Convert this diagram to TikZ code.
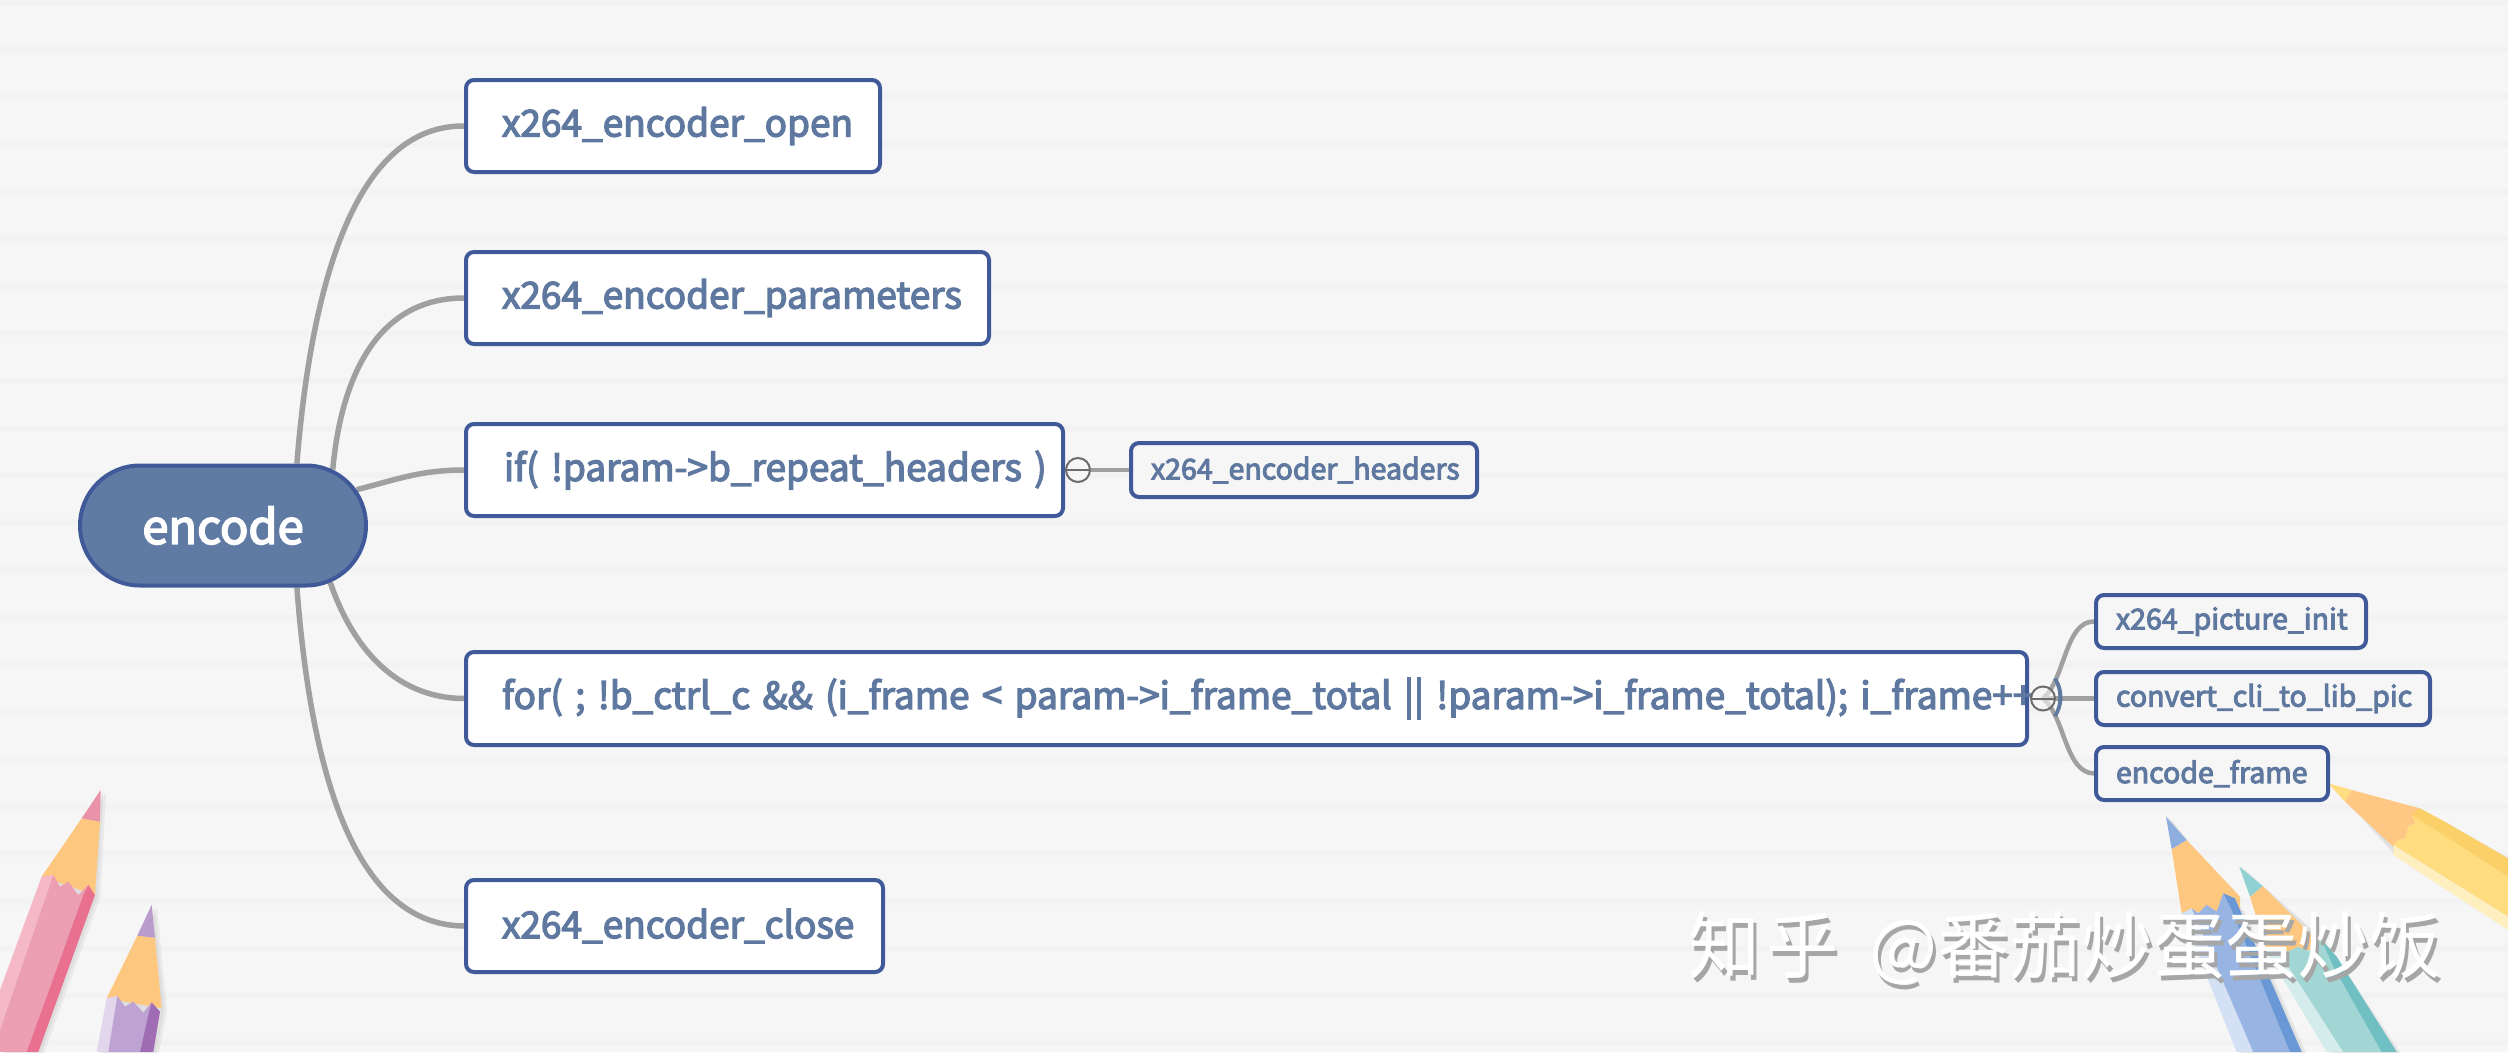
\documentclass[tikz,border=0pt]{standalone}
\usepackage{fontspec}
\setmainfont{Noto Sans CJK SC}[FakeBold=3.5]
\newfontfamily\wmfont{Noto Sans CJK SC}
\usetikzlibrary{shapes.misc}
\pgfdeclarelayer{under}
\pgfsetlayers{under,main}
\definecolor{pagebg}{HTML}{F6F6F6}
\definecolor{ruleline}{HTML}{F2F2F2}
\definecolor{edgeblue}{HTML}{405A99}
\definecolor{textblue}{HTML}{5F789F}
\definecolor{rootfill}{HTML}{5F7AA3}
\definecolor{linkgray}{HTML}{A0A0A0}
\tikzset{
  x=1pt,y=-1pt,
  hx/.code={\definecolor{tmpc}{HTML}{#1}\tikzset{fill=tmpc}},
  mainbox/.style={draw=edgeblue,line width=4pt,rounded corners=8pt,fill=white,text=textblue,
    anchor=north west,font=\fontsize{37}{40}\selectfont,inner sep=0pt,align=left},
  subbox/.style={draw=edgeblue,line width=4pt,rounded corners=8pt,fill=pagebg,text=textblue,
    anchor=north west,font=\fontsize{28.5}{32}\selectfont,inner sep=0pt,align=left},
  rootnode/.style={rounded rectangle,draw=edgeblue,line width=4pt,fill=rootfill,text=white,
    font=\fontsize{47}{52}\selectfont,inner sep=0pt},
  toggle/.style={circle,draw=gray!85!black,line width=2pt,fill=pagebg,inner sep=0pt,minimum size=24pt,
    path picture={\draw[gray!85!black,line width=2pt] (path picture bounding box.west) -- (path picture bounding box.east);}},
  mainlink/.style={draw=linkgray,line width=5.5pt},
  sublink/.style={draw=linkgray,line width=4.5pt},
  penshade/.style={fill=gray,opacity=0.10},
  zoomL/.style={shift={(0,770)},x=0.3333pt,y=-0.3333pt},
  zoomR/.style={shift={(2050,780)},x=0.3333pt,y=-0.3333pt},
}
\begin{document}
\begin{tikzpicture}
\useasboundingbox (0,0) rectangle (2508,1052);
\begin{pgfonlayer}{under}
\fill[pagebg] (0,0) rectangle (2508,1052);
\foreach \k in {-9,...,13} {
  \draw[ruleline,line width=7pt,opacity=0.5] (0,428+47.3*\k) -- (2508,428+47.3*\k);
  \draw[ruleline,line width=3pt] (0,428+47.3*\k) -- (2508,428+47.3*\k);
}
% pencils, left
\begin{scope}[zoomL]
\foreach \d in {8,16} \fill[penshade,shift={(\d,\d/2)}] (302,60)--(285,375)--(115,846)--(0,846)--(0,660)--(125,320)--cycle;
\foreach \d in {8,16} \fill[penshade,shift={(\d,\d/2)}] (455,405)--(485,715)--(460,846)--(290,846)--(320,685)--cycle;
\fill[hx=FEC780] (245,145)--(300,155)--(285,375)--(125,320)--cycle;
\fill[hx=E992A8] (302,60)--(300,155)--(245,145)--cycle;
\fill[hx=F5B8C6] (125,320)--(160,315)--(0,780)--(0,660)--cycle;
\fill[hx=EC9FB2] (160,315)--(180,350)--(205,335)--(235,375)--(265,345)--(250,375)--(80,846)--(0,846)--(0,780)--cycle;
\fill[hx=E9708F] (265,345)--(285,375)--(115,846)--(80,846)--(250,375)--cycle;
\fill[hx=FEC780] (412,497)--(465,503)--(485,715)--(320,685)--cycle;
\fill[hx=B99BCC] (455,405)--(465,503)--(412,497)--cycle;
\fill[hx=E2D6EC] (320,685)--(352,678)--(325,846)--(290,846)--cycle;
\fill[hx=BEA2D3] (352,678)--(375,710)--(400,695)--(430,728)--(455,697)--(445,735)--(420,846)--(325,846)--cycle;
\fill[hx=A06CB4] (455,697)--(480,725)--(460,846)--(420,846)--(445,735)--cycle;
\end{scope}
% pencils, right
\begin{scope}[zoomR]
\foreach \d in {8,16} \fill[penshade,shift={(\d,\d/2)}] (348,110)--(570,390)--(755,816)--(560,816)--(395,400)--cycle;
\foreach \d in {8,16} \fill[penshade,shift={(\d,\d/2)}] (568,260)--(815,480)--(1040,816)--(830,816)--(640,500)--cycle;
\foreach \d in {8,16} \fill[penshade,shift={(\d,\d/2)}] (835,10)--(1175,120)--(1374,235)--(1374,450)--(1030,225)--cycle;
\fill[hx=FEC780] (600,350)--(638,318)--(785,465)--(780,510)--(725,515)--(650,510)--cycle;
\fill[hx=8FD0D2] (568,260)--(638,318)--(600,350)--cycle;
\fill[hx=D4ECEB] (640,500)--(690,520)--(880,816)--(830,816)--cycle;
\fill[hx=A2D6D5] (690,520)--(725,510)--(745,500)--(775,515)--(815,480)--(850,560)--(995,816)--(880,816)--cycle;
\fill[hx=6FBFC3] (815,480)--(860,530)--(1040,816)--(995,816)--(850,560)--cycle;
\fill[hx=FEC780] (365,207)--(410,180)--(570,350)--(570,390)--(395,400)--cycle;
\fill[hx=8FAEE0] (348,110)--(410,180)--(365,207)--cycle;
\fill[hx=D4E0F3] (395,400)--(425,385)--(610,816)--(560,816)--cycle;
\fill[hx=97B4E2] (425,385)--(445,400)--(470,375)--(500,395)--(520,340)--(545,390)--(720,816)--(610,816)--cycle;
\fill[hx=6A98D6] (520,340)--(555,355)--(570,390)--(755,816)--(720,816)--(545,390)--cycle;
\fill[hx=FEC784] (885,65)--(905,30)--(1110,85)--(1095,130)--(1075,140)--(1065,175)--(1045,180)--(1030,200)--cycle;
\fill[hx=FFDD80] (835,10)--(905,30)--(885,65)--cycle;
\fill[hx=FBD068] (1110,85)--(1175,120)--(1374,235)--(1374,290)--(1085,105)--cycle;
\fill[hx=FFDD7E] (1085,105)--(1374,290)--(1374,410)--(1030,195)--(1045,180)--(1065,175)--(1075,140)--(1095,130)--cycle;
\fill[hx=FDEFC0] (1030,195)--(1374,410)--(1374,450)--(1030,225)--cycle;
\end{scope}
\end{pgfonlayer}

\node[rootnode,minimum width=286pt,minimum height=120pt] (root) at (223,525.5) {encode};

\node[mainbox,text width=414pt,minimum height=92pt] (open) at (464,78) {\hspace*{36pt}x264\_encoder\_open};
\node[mainbox,text width=523pt,minimum height=92pt] (params) at (464,250) {\hspace*{36pt}x264\_encoder\_parameters};
\node[mainbox,text width=597pt,minimum height=92pt] (ifbox) at (464,422) {\hspace*{38pt}if( !param->b\_repeat\_headers )};
\node[mainbox,text width=1561pt,minimum height=93pt] (forbox) at (464,650) {\hspace*{36pt}\rlap{for( ; !b\_ctrl\_c \&\& (i\_frame < param->i\_frame\_total || !param->i\_frame\_total); i\_frame++ \hspace*{7pt})}};
\node[mainbox,text width=417pt,minimum height=92pt] (closebox) at (464,878) {\hspace*{36pt}x264\_encoder\_close};

\node[subbox,text width=346pt,minimum height=54pt] (headers) at (1129,441) {\hspace*{20pt}x264\_encoder\_headers};
\node[subbox,text width=270pt,minimum height=53pt] (init) at (2094,593) {\hspace*{20pt}x264\_picture\_init};
\node[subbox,text width=334pt,minimum height=53pt] (convert) at (2094,670) {\hspace*{20pt}convert\_cli\_to\_lib\_pic};
\node[subbox,text width=232pt,minimum height=53pt] (frame) at (2094,745) {\hspace*{20pt}encode\_frame};

\node[toggle] (t1) at (1078,0 |- headers.west) {};
\node[toggle,fill opacity=0.6] (t2) at (2043,0 |- convert.west) {};
\begin{pgfonlayer}{under}
\draw[mainlink] (root.40) .. controls (310,300) and (350,125) .. (open.west);
\draw[mainlink] (root.27) .. controls (340,390) and (370,298) .. (params.west);
\draw[mainlink] (root.15) .. controls (395,480) and (420,470) .. (ifbox.west);
\draw[mainlink] (root.-28) .. controls (350,640) and (390,698) .. (forbox.west);
\draw[mainlink] (root.-40) .. controls (310,760) and (350,925) .. (closebox.west);
\draw[sublink] (t1) -- (headers.west);
\draw[sublink] (t2.center) .. controls (2065,680) and (2065,621) .. (init.west);
\draw[sublink] (t2.center) -- (convert.west);
\draw[sublink] (t2.center) .. controls (2065,716) and (2065,773) .. (frame.west);
\end{pgfonlayer}

\node[anchor=base west,inner sep=0pt,text=black!35,font=\wmfont\fontsize{72}{76}\selectfont] (wmshadow) at (1691,977) {知\hspace{6pt}乎\hspace{31pt}@番茄炒蛋蛋炒饭};
\node[anchor=base west,inner sep=0pt,text=white,font=\wmfont\fontsize{72}{76}\selectfont] (wm) at (1688,972) {知\hspace{6pt}乎\hspace{31pt}@番茄炒蛋蛋炒饭};
\end{tikzpicture}
\end{document}
